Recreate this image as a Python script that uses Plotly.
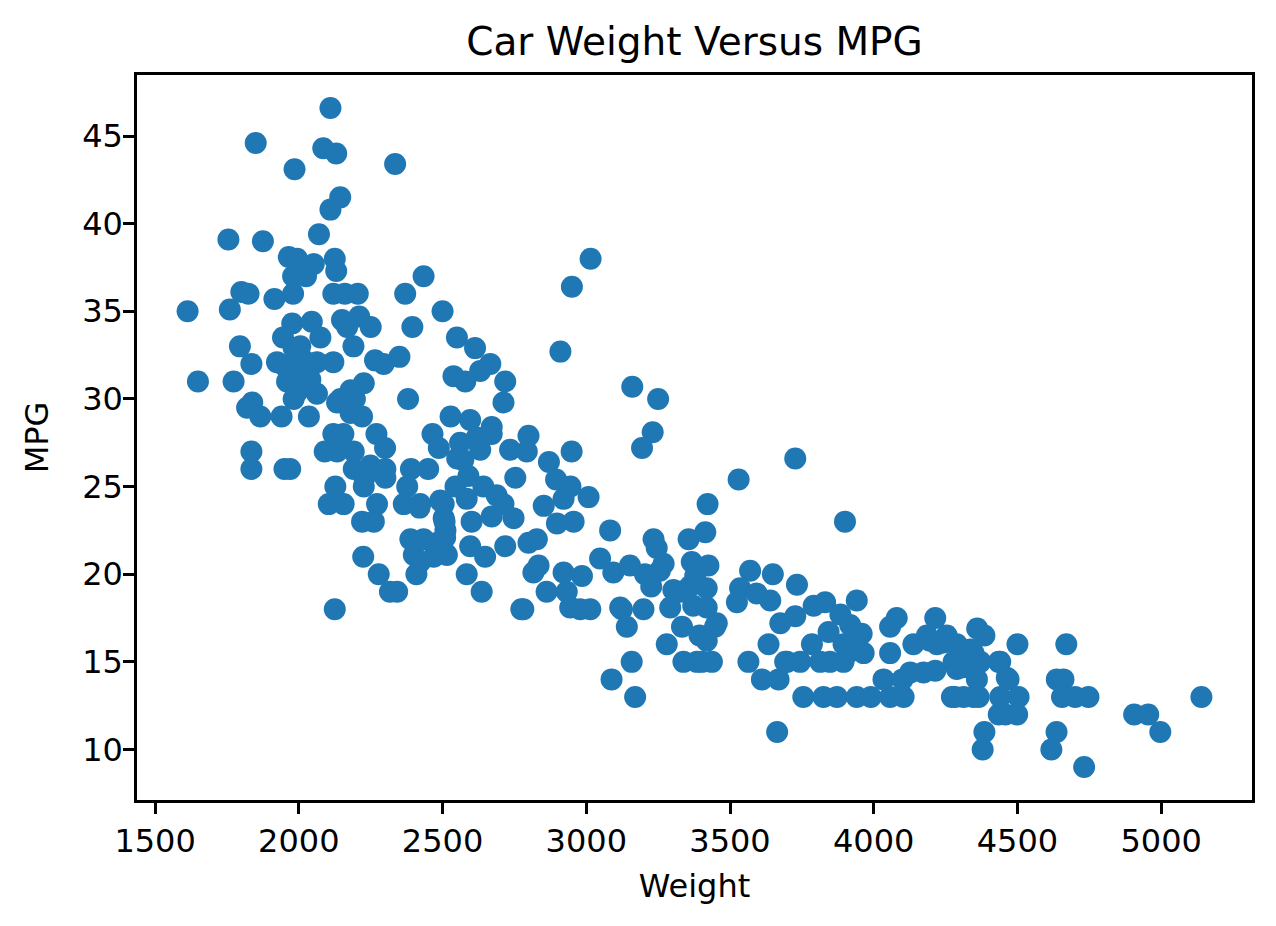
import plotly.graph_objects as go

# Car weight (lbs) and fuel economy (MPG)
weight = [
    2110, 1850, 2085, 2130, 1985, 2335, 2144, 2110, 2070, 1755,
    1875, 1965, 1994, 2052, 2125, 2130, 1980, 2025, 2434, 1800,
    1825, 1915, 1980, 2120, 2160, 2205, 2370, 1613, 1760, 2500,
    1977, 2045, 2075, 1945, 1982, 2150, 2210, 2250, 2190, 2168,
    2395, 2550, 1795, 1835, 1924, 2017, 2120, 2265, 2350, 1950,
    2063, 2295, 3015, 2950, 2910, 2613, 2666, 2631, 2538, 2579,
    2718, 2712, 3160, 3250, 3231, 3194, 2949,
    1649, 1773, 1838, 1820, 1866, 1940, 2035, 1959, 1994, 1982,
    2063, 2040, 2226, 2180, 2145, 2133, 2180, 2220, 2380, 2528,
    2465, 2487, 2120, 2155, 2270, 2300, 2090, 2133, 2191, 1835,
    1835, 1950, 1970, 2191, 2249, 2301, 2301, 2390, 2450, 2377,
    2365, 2420, 2504, 2551, 2545, 2127, 2104, 2156, 2226, 2272,
    2220, 2261, 2388, 2434, 2400, 2409, 2469, 2510, 2510, 2504,
    2224, 2278, 2317, 2342, 2125,
    2596, 2671, 2561, 2619, 2671, 2799, 2793, 2735, 2572, 2631,
    2870, 2422, 2492, 2590, 2642, 2688, 2753, 2712, 2747, 2671,
    2601, 2507, 2584, 2852, 2921, 3008, 2956, 2898, 3083, 3234,
    3245, 3356, 2481, 2596, 2718, 2799, 2422, 2515, 2648, 2584,
    2636, 2816, 2921, 2985, 3048, 3094, 3152, 3256, 3303, 3367,
    2781, 2862, 2944, 3014, 3118, 2895, 2945, 2828, 2509, 2474,
    2834, 2932, 2979, 3204, 3226, 3124, 3199, 3141, 3269, 3292,
    3333, 3280, 3338, 3385, 3158, 3088, 3170, 3360, 3372, 3394,
    2774,
    3727, 3530, 3422, 3414, 3900, 3425, 3379, 3419, 3327, 3570,
    3649, 3535, 3593, 3640, 3524, 3733, 3419, 3454, 3419, 3402,
    3437, 3564, 3611, 3669, 3634, 3675, 3727, 3791, 3831, 3884,
    3918, 3958, 3785, 3843, 3895, 3965, 3698, 3744, 3814, 3895,
    3941, 3755, 3825, 3872, 3941, 3990, 4057, 4104, 4034, 4100,
    4080, 4057, 4057, 4138, 4185, 4214, 4254, 4289, 4360, 4385,
    4347, 4435, 4214, 4278, 4371, 4272, 4347, 4435, 3448, 3692,
    3848, 3918, 4127, 4173, 4289, 4196, 4242, 4336, 4220,
    4500, 4670, 4440, 4324, 4469, 4359, 4440, 4504, 4313, 4365,
    4458, 4499, 4637, 4660, 4655, 4701, 4747, 5140, 4906, 4955,
    4997, 4385, 4379, 4636, 4618, 4732, 3664, 4463, 4312, 4283,
    2000, 2005, 2195, 2228,
]

mpg = [
    46.6, 44.6, 44.3, 44.0, 43.1, 43.4, 41.5, 40.8, 39.4, 39.1,
    39.0, 38.1, 38.0, 37.7, 38.0, 37.3, 37.0, 37.0, 37.0, 36.1,
    36.0, 35.7, 36.0, 36.0, 36.0, 36.0, 36.0, 35.0, 35.1, 35.0,
    34.3, 34.4, 33.5, 33.5, 32.9, 34.5, 34.7, 34.1, 33.0, 34.1,
    34.1, 33.5, 33.0, 32.0, 32.1, 32.2, 32.1, 32.2, 32.4, 31.9,
    32.1, 32.0, 38.0, 36.4, 32.7, 32.9, 32.0, 31.6, 31.3, 31.0,
    31.0, 29.8, 30.7, 30.0, 28.1, 27.2, 27.0,
    31.0, 31.0, 29.8, 29.5, 29.0, 29.0, 29.0, 31.0, 30.4, 30.0,
    30.3, 31.1, 30.9, 30.5, 30.0, 29.8, 29.2, 29.0, 30.0, 29.0,
    28.0, 27.2, 28.0, 28.0, 28.0, 27.2, 27.0, 27.0, 27.0, 27.0,
    26.0, 26.0, 26.0, 26.0, 26.2, 26.0, 25.5, 26.0, 26.0, 25.0,
    24.0, 23.8, 24.0, 26.6, 25.0, 25.0, 24.0, 24.0, 25.0, 24.0,
    23.0, 23.0, 22.0, 22.0, 21.1, 20.0, 21.0, 21.2, 22.5, 23.2,
    21.0, 20.0, 19.0, 19.0, 18.0,
    28.8, 28.4, 27.5, 27.8, 28.0, 27.9, 27.0, 27.1, 26.5, 27.1,
    26.4, 24.0, 24.2, 25.6, 25.0, 24.5, 25.5, 24.0, 23.2, 23.3,
    23.0, 23.0, 24.3, 23.9, 24.3, 24.4, 23.0, 22.9, 22.5, 22.0,
    21.5, 22.0, 21.8, 21.6, 21.6, 21.8, 20.7, 21.1, 21.0, 20.0,
    19.0, 20.1, 20.1, 19.9, 20.9, 20.1, 20.5, 20.2, 19.1, 20.7,
    18.0, 19.0, 18.1, 18.0, 18.1, 25.4, 25.0, 22.0, 22.1, 21.1,
    20.5, 19.0, 18.0, 20.0, 19.3, 18.0, 18.0, 17.0, 20.6, 18.1,
    17.0, 16.0, 15.0, 15.0, 15.0, 14.0, 13.0, 19.3, 18.2, 16.5,
    18.0,
    26.6, 25.4, 24.0, 22.4, 23.0, 20.5, 19.9, 19.2, 19.0, 20.2,
    20.0, 19.2, 18.9, 18.5, 18.4, 19.4, 18.1, 17.2, 16.2, 15.0,
    15.0, 15.0, 14.0, 14.0, 16.0, 17.2, 17.6, 18.2, 18.4, 17.7,
    17.1, 16.6, 16.0, 16.7, 16.0, 15.5, 15.0, 15.0, 15.0, 15.0,
    18.5, 13.0, 13.0, 13.0, 13.0, 13.0, 13.0, 13.0, 14.0, 14.0,
    17.5, 17.0, 15.5, 16.0, 16.5, 17.5, 16.5, 16.0, 16.9, 16.5,
    15.5, 15.0, 14.5, 15.0, 15.0, 13.0, 13.0, 12.0, 17.0, 15.0,
    15.0, 15.6, 14.4, 14.4, 14.6, 16.2, 16.1, 15.7, 16.0,
    16.0, 16.0, 15.0, 15.0, 14.0, 14.0, 13.0, 13.0, 13.0, 13.0,
    12.0, 12.0, 14.0, 14.0, 13.0, 13.0, 13.0, 13.0, 12.0, 12.0,
    11.0, 11.0, 10.0, 11.0, 10.0, 9.0, 11.0, 14.1, 14.7, 13.0,
    31.5, 33.0, 30.0, 25.5,
]

x_ticks = [1500, 2000, 2500, 3000, 3500, 4000, 4500, 5000]
y_ticks = [10, 15, 20, 25, 30, 35, 40, 45]

font = 'DejaVu Sans'

trace = go.Scatter(
    x=weight,
    y=mpg,
    mode='markers',
    marker=dict(color='#1f77b4', size=22, opacity=1, line=dict(width=0)),
    showlegend=False
)

axis_style = dict(
    showgrid=False,
    zeroline=False,
    showline=True,
    mirror=True,
    linecolor='black',
    linewidth=2.5,
    ticks='outside',
    ticklen=11,
    tickwidth=2.5,
    tickcolor='black',
    tickfont=dict(family=font, size=32, color='black'),
)

# the page body adds an 8px offset, so the figure is 8px smaller than the window
layout = go.Layout(
    width=1268,
    height=918,
    margin=dict(l=129, r=24, t=67, b=126),
    paper_bgcolor='white',
    plot_bgcolor='white',
    title=dict(text='Car Weight Versus MPG', x=0.5, xref='paper',
               y=1 - 33 / 918, yref='container', yanchor='middle',
               font=dict(family=font, size=39, color='black')),
    xaxis=dict(axis_style, range=[1437, 5316], tickvals=x_ticks,
               title=dict(text='Weight', standoff=16,
                          font=dict(family=font, size=32, color='black'))),
    yaxis=dict(axis_style, range=[7.12, 48.48], tickvals=y_ticks,
               ticklabelstandoff=-6,
               title=dict(text='MPG', standoff=24,
                          font=dict(family=font, size=32, color='black'))),
)

fig = go.Figure(data=[trace], layout=layout)
fig.write_html("out.html")
